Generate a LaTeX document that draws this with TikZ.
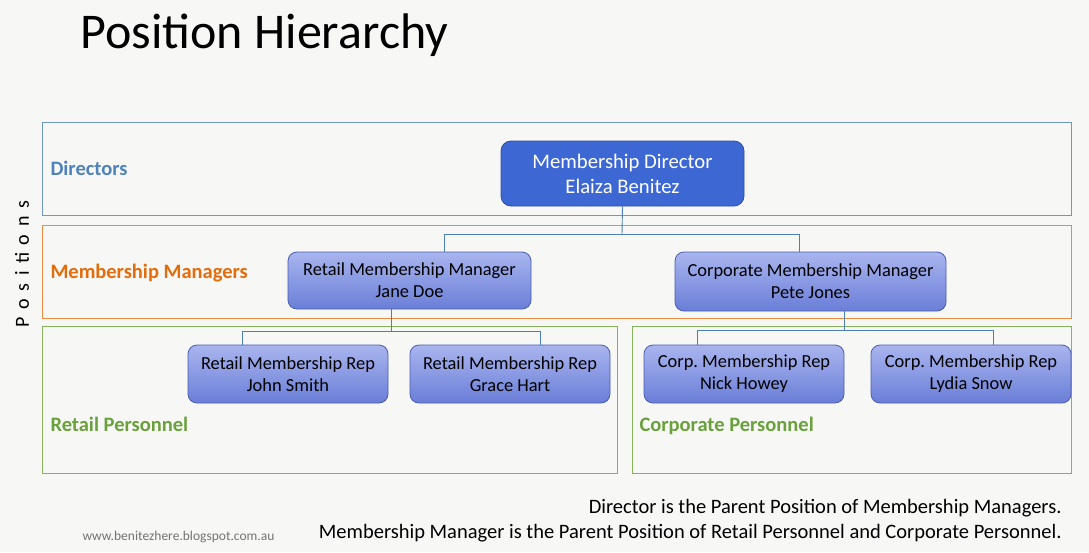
\documentclass[tikz,border=0pt]{standalone}
\usepackage{fontspec}
\setmainfont{Carlito}
\usetikzlibrary{positioning}
\frenchspacing
\definecolor{bgc}{HTML}{F7F7F5}
\definecolor{dirblue}{HTML}{4F81BD}
\definecolor{mgrorange}{HTML}{E46C0A}
\definecolor{persgreen}{HTML}{6AA13C}
\definecolor{bandblue}{HTML}{6F98C8}
\definecolor{bandorange}{HTML}{F08A3E}
\definecolor{bandgreen}{HTML}{86B25B}
\definecolor{nodetop}{HTML}{A9B5EE}
\definecolor{nodebot}{HTML}{6A7ED8}
\definecolor{nodeedge}{HTML}{4A5DAE}
\definecolor{dirfill}{HTML}{3D68D4}
\definecolor{dirEdge}{HTML}{2D4DA6}
\definecolor{linec}{HTML}{4E7EB7}
\tikzset{
  band/.style={draw, line width=1pt},
  bandlabel/.style={anchor=base west, font=\fontsize{20.5}{22}\selectfont\bfseries},
  person/.style={draw=nodeedge, rounded corners=9pt, top color=nodetop, bottom color=nodebot,
     align=center, font=\fontsize{18.4}{22}\selectfont, text=black, inner sep=0pt, line width=0.8pt},
  conn/.style={draw=linec, line width=0.9pt},
  foot/.style={anchor=east, font=\fontsize{20.5}{22}\selectfont},
}
\begin{document}
\begin{tikzpicture}[x=1pt,y=-1pt]
\fill[bgc] (0,0) rectangle (1089,552);
\useasboundingbox (0,0) rectangle (1089,552);
% title
\node[anchor=west, font=\fontsize{50}{54}\selectfont] (title) at (77,35) {Position Hierarchy};
% bands
\draw[band, draw=bandblue] (42,122) rectangle (1071,215);
\draw[band, draw=bandorange] (42,225) rectangle (1071,318);
\draw[band, draw=bandgreen] (42,326) rectangle (617,473);
\draw[band, draw=bandgreen] (632,326) rectangle (1071,473);
% band labels
\node[bandlabel, text=dirblue] (ldir) at (47,175) {Directors};
\node[bandlabel, text=mgrorange] (lmgr) at (47,278) {Membership Managers};
\node[bandlabel, text=persgreen] (lret) at (47,431) {Retail Personnel};
\node[bandlabel, text=persgreen] (lcorp) at (636,431) {Corporate Personnel};
% positions
\node[rotate=90, font=\fontsize{20}{20}\selectfont\addfontfeature{LetterSpace=38}] (pos) at (22,264) {Positions};
% nodes
\node[draw=dirEdge, fill=dirfill, rounded corners=10pt, minimum width=243pt, minimum height=65pt,
  align=center, text=white, font=\fontsize{20.7}{25}\selectfont, inner sep=0pt, line width=0.8pt] (dir) at (622.5,173.5) {Membership Director\\Elaiza Benitez};
\node[person, minimum width=243pt, minimum height=57pt] (rm) at (409.5,280.5) {Retail Membership Manager\\Jane Doe};
\node[person, minimum width=271pt, minimum height=59pt] (cm) at (810.5,281.5) {Corporate Membership Manager\\Pete Jones};
\node[person, minimum width=200pt, minimum height=58pt] (r1) at (288,374) {Retail Membership Rep\\John Smith};
\node[person, minimum width=200pt, minimum height=58pt] (r2) at (510,374) {Retail Membership Rep\\Grace Hart};
\node[person, minimum width=200pt, minimum height=58pt] (c1) at (744,374) {Corp. Membership Rep\\Nick Howey};
\node[person, minimum width=200pt, minimum height=58pt] (c2) at (971,374) {Corp. Membership Rep\\Lydia Snow};
% connectors
\coordinate (j0) at (622,234);
\coordinate (j1) at (391,331);
\coordinate (j2) at (844,330);
\draw[conn] (dir.south) -- (j0);
\draw[conn] (j0) -| ([xshift=35pt]rm.north);
\draw[conn] (j0) -| ([xshift=-11pt]cm.north);
\draw[conn] ([xshift=-18.5pt]rm.south) -- (j1);
\draw[conn] (j1) -| ([xshift=-46pt]r1.north);
\draw[conn] (j1) -| ([xshift=30pt]r2.north);
\draw[conn] ([xshift=33.5pt]cm.south) -- (j2);
\draw[conn] (j2) -| ([xshift=-47pt]c1.north);
\draw[conn] (j2) -| ([xshift=22pt]c2.north);
% footer
\node[foot] (f1) at (1065,508) {Director is the Parent Position of Membership Managers.};
\node[foot] (f2) at (1065,533) {Membership Manager is the Parent Position of Retail Personnel and Corporate Personnel.};
\node[anchor=west, text=gray!90!black, font=\fontsize{13.5}{15}\selectfont] (web) at (79,537) {www.benitezhere.blogspot.com.au};
\end{tikzpicture}
\end{document}
